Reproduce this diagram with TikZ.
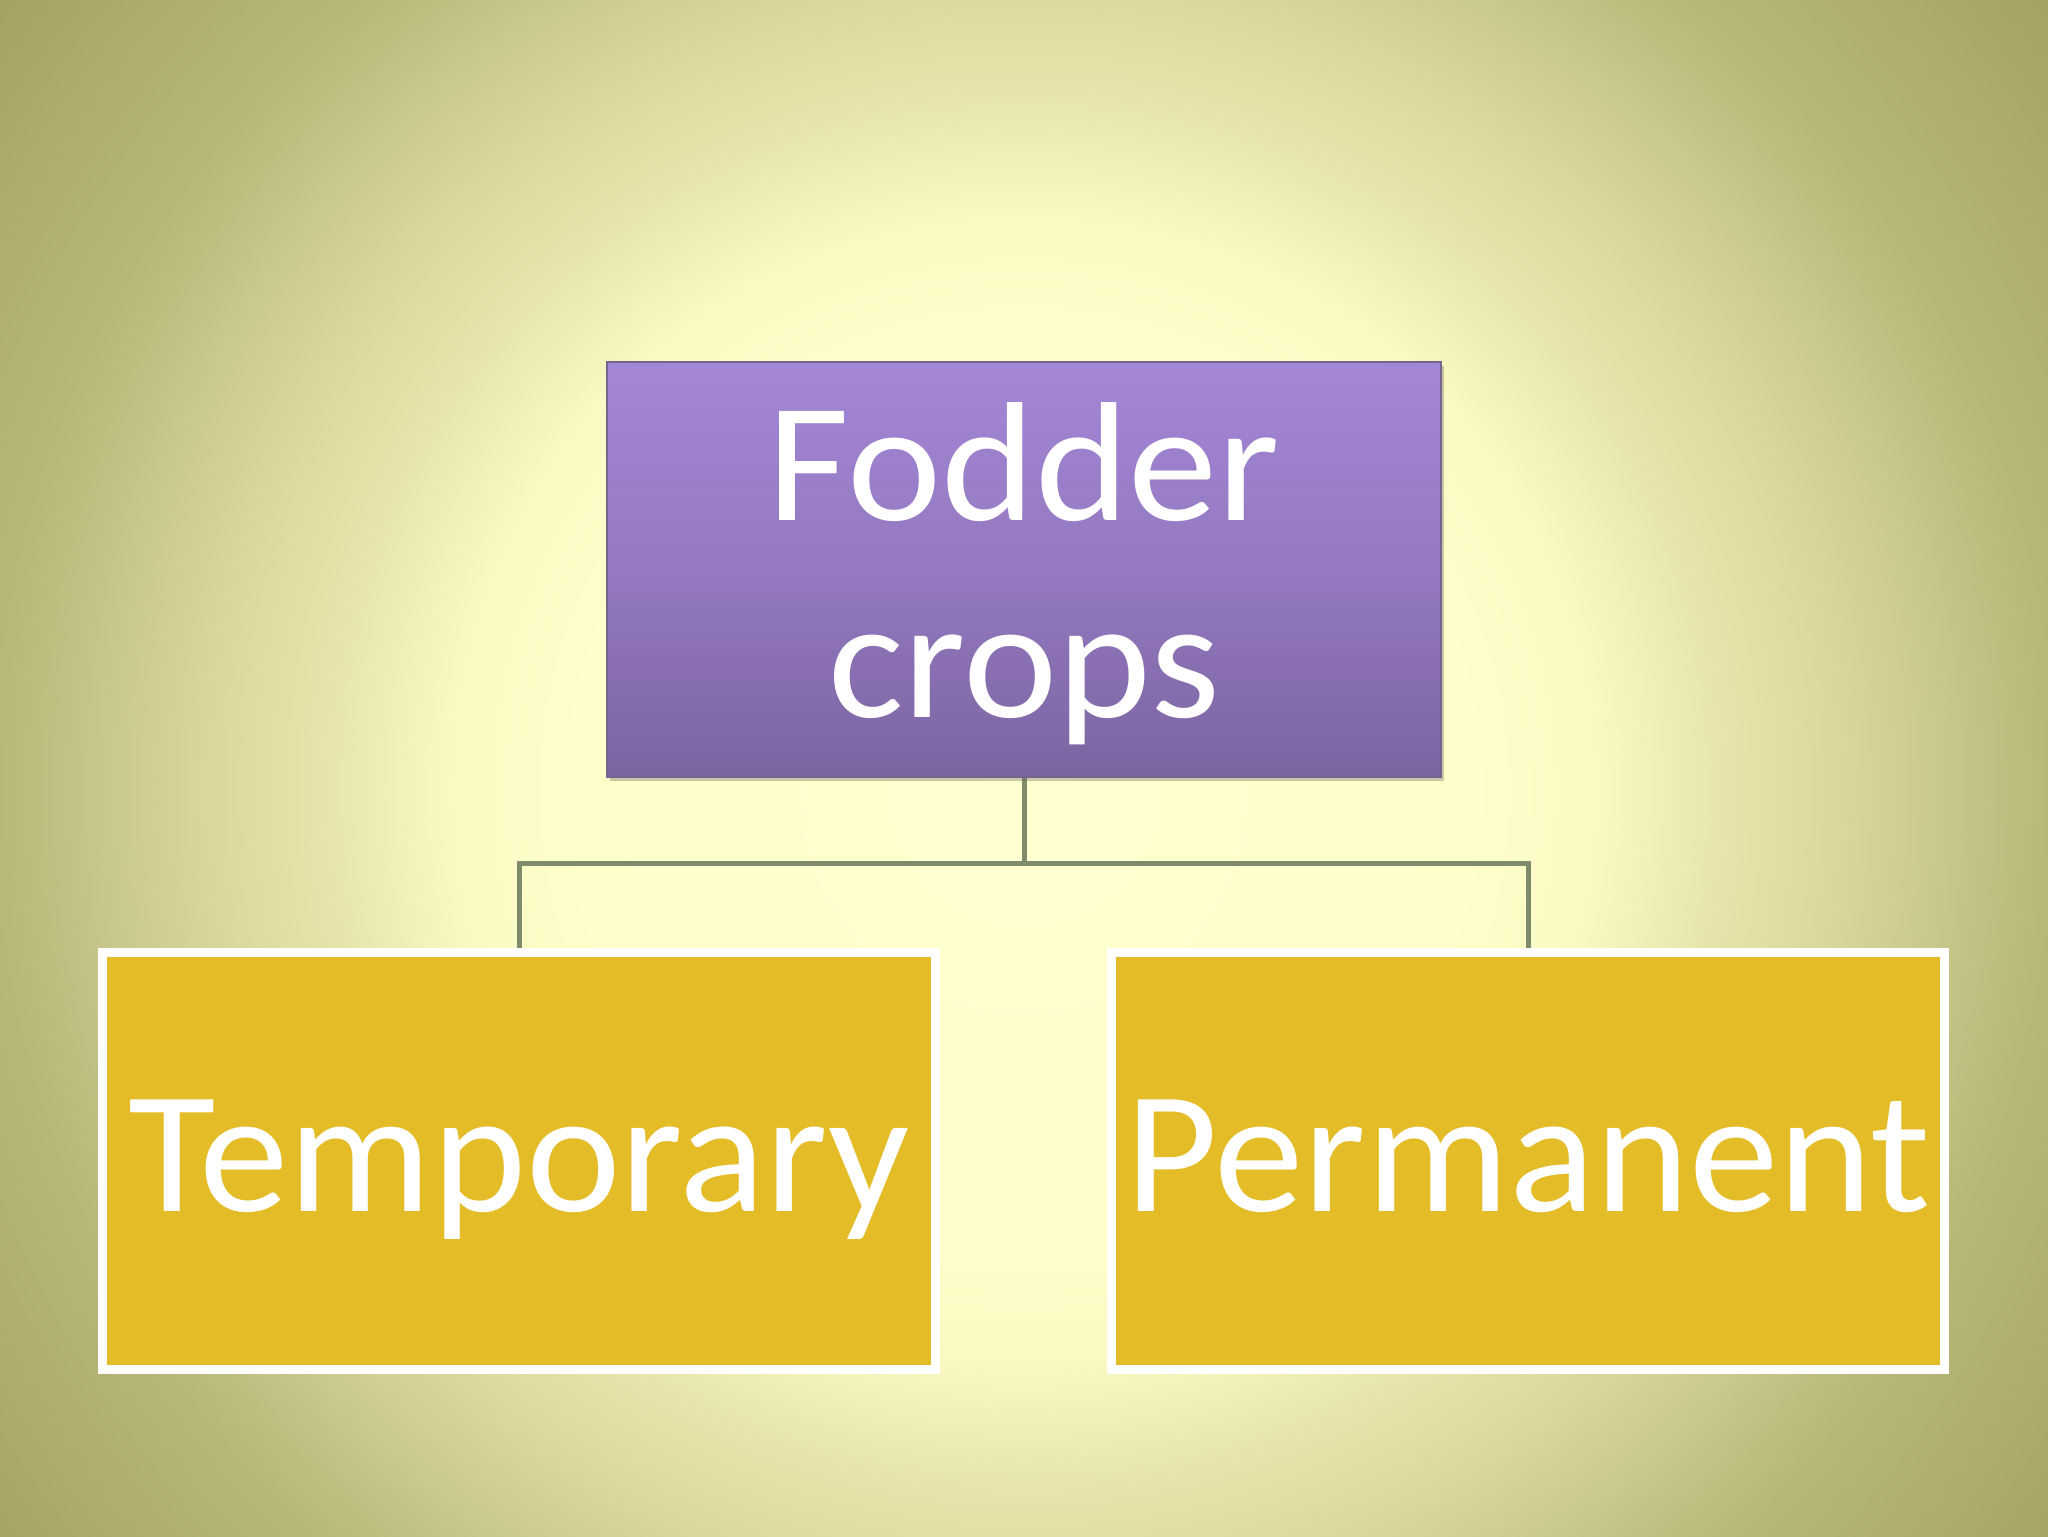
\documentclass[tikz,border=0pt]{standalone}
\usepackage{fontspec}
\setmainfont{Carlito}
\newfontfamily\topfont{Carlito}[FakeStretch=1.05]
\newfontfamily\subfont{Carlito}[FakeStretch=1.03]
\usetikzlibrary{shadows}
\definecolor{bgA}{HTML}{FFFFD0}
\definecolor{bgB}{HTML}{FEFECB}
\definecolor{bgC}{HTML}{FAF9C3}
\definecolor{bgD}{HTML}{E6E4AC}
\definecolor{bgE}{HTML}{DCD9A0}
\definecolor{bgF}{HTML}{B8B87B}
\definecolor{bgG}{HTML}{A4A162}
\definecolor{purpTop}{HTML}{A386D6}
\definecolor{purpMid}{HTML}{9479C0}
\definecolor{purpBot}{HTML}{7C64A1}
\definecolor{purpEdge}{HTML}{76648F}
\definecolor{gold}{HTML}{E4BC28}
\definecolor{connc}{HTML}{7F8C6C}
\pgfdeclareradialshading{bgshade}{\pgfpoint{0bp}{0bp}}{color(0bp)=(bgA); color(8.6bp)=(bgB); color(11bp)=(bgC); color(13.5bp)=(bgD); color(15.4bp)=(bgE); color(19.7bp)=(bgF); color(25bp)=(bgG); color(50bp)=(bgG)}
\pgfdeclarelayer{bglayer}
\pgfdeclarelayer{connlayer}
\pgfsetlayers{bglayer,connlayer,main}
\tikzset{
  topbox/.style={rectangle, minimum width=417pt, minimum height=207.5pt, inner sep=0pt,
    top color=purpTop, bottom color=purpBot, middle color=purpMid, draw=purpEdge, line width=0.6pt,
    text=white, align=center, font=\topfont\fontsize{85}{98.5}\selectfont,
    drop shadow={shadow xshift=1.5pt, shadow yshift=-2pt, opacity=0.35, fill=black!60}},
  subbox/.style={rectangle, minimum width=416.5pt, minimum height=208.5pt, inner sep=0pt,
    fill=gold, draw=white, line width=4.5pt, text=white,
    font=\subfont\fontsize{87}{100}\selectfont, text height=56pt, text depth=6pt,
    drop shadow={shadow xshift=1.5pt, shadow yshift=-1.5pt, opacity=0.3, fill=black!60}},
  conn/.style={draw=connc, line width=2.5pt}
}
\begin{document}
\begin{tikzpicture}[x=0.5pt, y=-0.5pt]
\useasboundingbox (0,0) rectangle (2048,1536);
\begin{pgfonlayer}{bglayer}
  \begin{scope}
    \clip (0,0) rectangle (2048,1536);
    \shade[shading=bgshade] (-276,-510) rectangle (2324,2090);
  \end{scope}
\end{pgfonlayer}
\node[topbox] (fodder) at (1024,569.5) {\raisebox{-2pt}[\height][\depth]{Fodder}\\\raisebox{-2pt}[\height][\depth]{crops}};
\node[subbox] (temp) at (519,1161) {Temporary};
\node[subbox] (perm) at (1528,1161) {Permanent};
\coordinate (bus) at (1024,863);
\begin{pgfonlayer}{connlayer}
  \draw[conn] (fodder.south) -- (bus);
  \draw[conn] (temp.north) |- (bus) -| (perm.north);
\end{pgfonlayer}
\end{tikzpicture}
\end{document}
